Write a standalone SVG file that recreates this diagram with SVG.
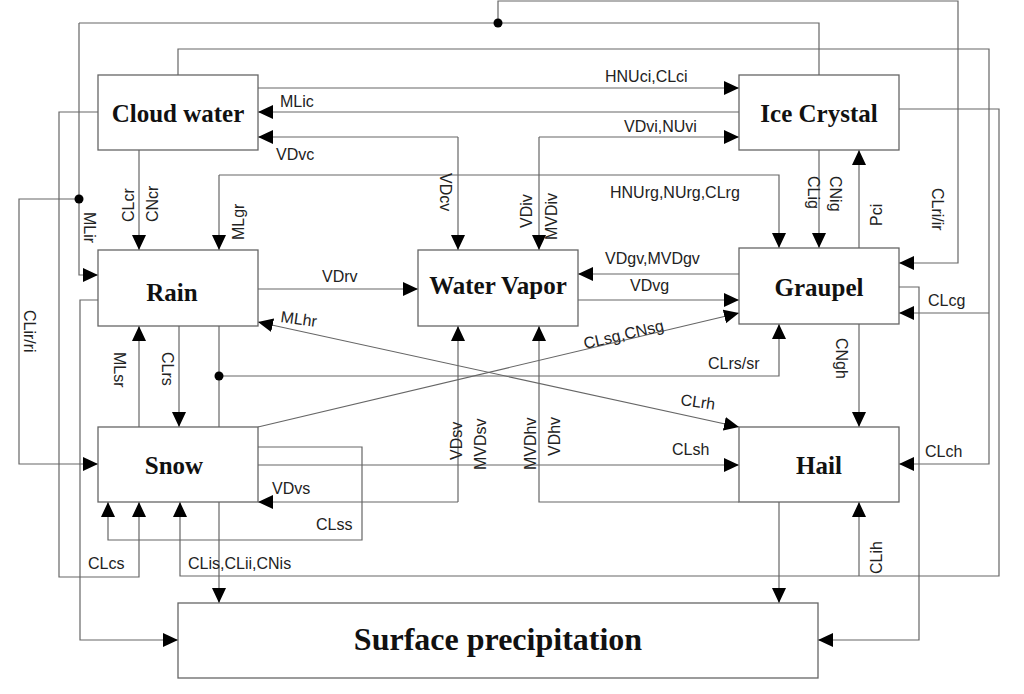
<svg xmlns="http://www.w3.org/2000/svg" width="1024" height="694" viewBox="0 0 1024 694">
<style>
.b{fill:#fff;stroke:#666;stroke-width:1.3}
.n{font-family:"Liberation Serif",serif;font-weight:bold;font-size:25px;text-anchor:middle;fill:#111}
.l{font-family:"Liberation Sans",sans-serif;font-size:16px;fill:#222}
#c path{fill:none;stroke:#666;stroke-width:1.2}
</style>
<defs><marker id="a" markerUnits="userSpaceOnUse" markerWidth="16" markerHeight="16" viewBox="0 0 16 16" refX="15" refY="8" orient="auto-start-reverse"><path d="M0,1L15,8L0,15z" fill="#000"/></marker></defs>
<rect width="1024" height="694" fill="#fff"/>
<g id="c" marker-end="url(#a)">
<path d="M498,23V1H958V263H899"/>
<path d="M79,23H819V75" marker-end="none"/>
<path d="M79,23V275H98"/>
<path d="M79,199H19V464H98"/>
<path d="M178,75V49H989V464H899"/>
<path d="M989,313H899"/>
<path d="M899,109H999V576H180V502"/>
<path d="M859,576V502"/>
<path d="M899,287H919V640H818"/>
<path d="M739,112H258"/>
<path d="M258,88H739"/>
<path d="M458,137H258"/>
<path d="M458,137V250"/>
<path d="M539,137H739"/>
<path d="M539,137V250"/>
<path d="M219,175H779V248"/>
<path d="M219,175V250"/>
<path d="M819,150V248"/>
<path d="M859,248V150"/>
<path d="M139,150V250"/>
<path d="M98,112H59V577H139V502"/>
<path d="M98,300H80V640H178"/>
<path d="M258,289H418"/>
<path d="M739,274H578"/>
<path d="M578,300H739"/>
<path d="M258,322L739,427" marker-start="url(#a)"/>
<path d="M258,427L739,313"/>
<path d="M219,376H779V324"/>
<path d="M219,326V427" marker-end="none"/>
<path d="M139,427V326"/>
<path d="M179,326V427"/>
<path d="M258,447H362V540H108V502"/>
<path d="M258,465H739"/>
<path d="M458,502H258"/>
<path d="M458,502V326"/>
<path d="M739,502H539V326"/>
<path d="M219,502V603"/>
<path d="M779,502V603"/>
<path d="M859,324V427"/>
</g>
<g fill="#000"><circle cx="498" cy="23" r="4.5"/><circle cx="79" cy="199" r="4.5"/><circle cx="219" cy="376" r="4.5"/></g>
<g id="cloud"><rect class="b" x="98" y="75" width="160" height="75"/><text class="n" x="178" y="122">Cloud water</text></g>
<g id="ice"><rect class="b" x="739" y="75" width="160" height="75"/><text class="n" x="819" y="122">Ice Crystal</text></g>
<g id="rain"><rect class="b" x="98" y="250" width="160" height="76"/><text class="n" x="172" y="301">Rain</text></g>
<g id="vapor"><rect class="b" x="418" y="250" width="160" height="76"/><text class="n" x="498" y="294">Water Vapor</text></g>
<g id="graupel"><rect class="b" x="739" y="248" width="160" height="76"/><text class="n" x="819" y="296">Graupel</text></g>
<g id="snow"><rect class="b" x="98" y="427" width="160" height="75"/><text class="n" x="174" y="474">Snow</text></g>
<g id="hail"><rect class="b" x="739" y="427" width="160" height="75"/><text class="n" x="819" y="474">Hail</text></g>
<g id="surface"><rect class="b" x="178" y="603" width="640" height="75"/><text class="n" x="498" y="650" style="font-size:32px">Surface precipitation</text></g>
<g class="l">
<text x="605" y="82">HNUci,CLci</text>
<text x="280" y="107">MLic</text>
<text x="276" y="160">VDvc</text>
<text x="624" y="132">VDvi,NUvi</text>
<text x="610" y="198">HNUrg,NUrg,CLrg</text>
<text x="322" y="282">VDrv</text>
<text x="280" y="322" transform="rotate(8 280 322)">MLhr</text>
<text x="605" y="264">VDgv,MVDgv</text>
<text x="630" y="291">VDvg</text>
<text x="585" y="349" transform="rotate(-13 585 349)">CLsg,CNsg</text>
<text x="928" y="306">CLcg</text>
<text x="708" y="369">CLrs/sr</text>
<text x="680" y="405" transform="rotate(8 680 405)">CLrh</text>
<text x="672" y="455">CLsh</text>
<text x="925" y="457">CLch</text>
<text x="272" y="494">VDvs</text>
<text x="316" y="530">CLss</text>
<text x="88" y="569">CLcs</text>
<text x="188" y="569">CLis,CLii,CNis</text>
<text transform="translate(134,222) rotate(-90)">CLcr</text>
<text transform="translate(158,222) rotate(-90)">CNcr</text>
<text transform="translate(244,240) rotate(-90)">MLgr</text>
<text transform="translate(440,173) rotate(90)">VDcv</text>
<text transform="translate(532,228) rotate(-90)">VDiv</text>
<text transform="translate(557,240) rotate(-90)">MVDiv</text>
<text transform="translate(808,176) rotate(90)">CLig</text>
<text transform="translate(830,176) rotate(90)">CNig</text>
<text transform="translate(882,226) rotate(-90)">Pci</text>
<text transform="translate(932,188) rotate(90)">CLri/ir</text>
<text transform="translate(84,212) rotate(90)">MLir</text>
<text transform="translate(24,310) rotate(90)">CLir/ri</text>
<text transform="translate(114,352) rotate(90)">MLsr</text>
<text transform="translate(162,352) rotate(90)">CLrs</text>
<text transform="translate(836,338) rotate(90)">CNgh</text>
<text transform="translate(462,460) rotate(-90)">VDsv</text>
<text transform="translate(486,470) rotate(-90)">MVDsv</text>
<text transform="translate(536,470) rotate(-90)">MVDhv</text>
<text transform="translate(560,456) rotate(-90)">VDhv</text>
<text transform="translate(882,574) rotate(-90)">CLih</text>
</g>
</svg>
